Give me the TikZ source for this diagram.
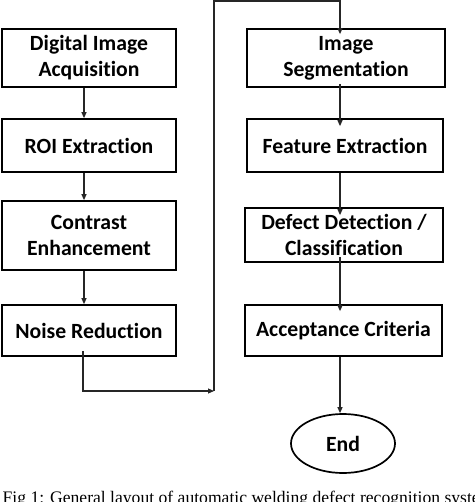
\documentclass[tikz,border=0pt]{standalone}
\usepackage{fontspec}
\setmainfont{Carlito}[RawFeature=-liga]
\newfontfamily\captfont{Liberation Serif}
\usetikzlibrary{arrows.meta,shapes.geometric,calc}
\begin{document}
\begin{tikzpicture}[x=1pt,y=-1pt,
  stepbox/.style={draw=black,line width=1.7pt,rectangle,inner sep=0pt,align=center,
    font=\bfseries\fontsize{21.7}{26}\selectfont},
  endbox/.style={draw=black,line width=1.7pt,ellipse,inner sep=0pt,
    font=\bfseries\fontsize{21.7}{26}\selectfont},
  conn/.style={draw=black!85,line width=1.1pt},
  arr/.style={conn,-{Triangle[length=6pt,width=5pt]}}]
\useasboundingbox (0,0) rectangle (474,502);
% left column
\node[stepbox,minimum width=174pt,minimum height=58pt] (dia) at (89,58) {Digital Image\\Acquisition};
\node[stepbox,minimum width=174pt,minimum height=53pt] (roi) at (89,145.5) {ROI Extraction};
\node[stepbox,minimum width=174pt,minimum height=69pt] (ce) at (89,235.5) {Contrast\\Enhancement};
\node[stepbox,minimum width=174pt,minimum height=51pt] (nr) at (89,330.5) {Noise Reduction};
% right column
\node[stepbox,minimum width=198pt,minimum height=58pt] (seg) at (346,58) {Image\\Segmentation};
\node[stepbox,minimum width=196pt,minimum height=53pt] (fe) at (345,145.5) {Feature Extraction};
\node[stepbox,minimum width=198pt,minimum height=54pt] (dd) at (344,235) {Defect Detection /\\Classification};
\node[stepbox,minimum width=197pt,minimum height=51pt] (ac) at (343.5,330.5) {Acceptance Criteria};
\node[endbox,minimum width=104pt,minimum height=59pt] (end) at (343,443.5) {End};
% connectors left
\draw[arr] ([xshift=-5pt]dia.south) -- ([xshift=-5pt]roi.north);
\draw[arr] ([xshift=-5pt]roi.south) -- ([xshift=-5pt]ce.north);
\draw[arr] ([xshift=-5pt]ce.south) -- ([xshift=-5pt]nr.north);
% crossover
\coordinate (c1) at (214,391);
\coordinate (c2) at (214,1);
\coordinate (c3) at (340,1);
\draw[arr] ([xshift=-6pt,yshift=6pt]nr.south) |- (c1);
\draw[arr] (c1) -- (c2) -- (c3) -- ([xshift=-6pt,yshift=-6pt]seg.north);
% connectors right
\draw[arr] ([xshift=-6pt,yshift=4pt]seg.south) -- ([xshift=-5pt,yshift=-8pt]fe.north);
\draw[arr] ([xshift=-5pt]fe.south) -- ([xshift=-4pt,yshift=-8pt]dd.north);
\draw[arr] ([xshift=-4pt,yshift=6pt]dd.south) -- ([xshift=-3.5pt,yshift=-7pt]ac.north);
\draw[arr] ([xshift=-3.5pt]ac.south) -- ([xshift=-3pt]end.north);
% caption
\node[anchor=base west,inner sep=0pt,font=\captfont\fontsize{17.6}{21}\selectfont] (cap) at (2.5,503) {Fig 1: General layout of automatic welding defect recognition system};
\end{tikzpicture}
\end{document}
